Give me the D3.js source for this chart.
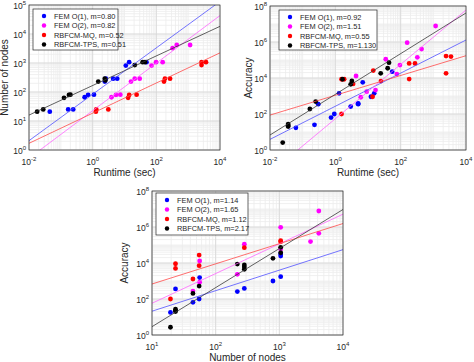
<!DOCTYPE html>
<html>
<head>
<meta charset="utf-8">
<script src="https://cdnjs.cloudflare.com/ajax/libs/d3/7.8.5/d3.min.js"></script>
<style>
  body { margin: 0; background: #fff; }
  svg { display: block; font-family: "Liberation Sans", Arial, sans-serif; }
</style>
</head>
<body>
<div id="chart"></div>
<script>
// series shared by all three panels
var seriesColors = ['#0000ff', '#ff00ff', '#ff0000', '#000000'];
var lineColors = ['#5252ff', '#ff66ff', '#ff4a4a', '#3a3a3a'];

// panel 1 : runtime (sec) -> number of nodes
var rnFemO1 = [[0.045,21],[0.17,25],[0.245,25],[0.56,66],[0.72,79],[1.1,81],[2.4,229],[2.6,289],[4.4,289],[5.9,289],[11,813],[14,1070],[49,1070]];
var rnFemO2 = [[3.9,66],[5.4,79],[7.4,81],[16,229],[21,289],[30,289],[71,813],[98,1070],[158,1070],[324,3240],[437,4170],[1150,4170]];
var rnMQ = [[1.26,21],[1.3,25],[3.1,25],[13,63],[14,79],[24,81],[174,229],[186,289],[270,289],[2630,850],[2630,1070],[3630,1070]];
var rnTPS = [[0.018,21],[0.028,25],[0.126,63],[0.18,79],[0.2,81],[1.5,229],[2.4,289],[2.5,250],[21,850],[37,1070],[44,1070]];
var rnSlopes = [0.80, 0.82, 0.52, 0.51];
var rnStart = [2.1, 0.52, 1.7, 16];   // fit value at left edge of x domain
var rnLabels = ['FEM O(1), m=0.80', 'FEM O(2), m=0.82', 'RBFCM-MQ, m=0.52', 'RBFCM-TPS, m=0.51'];

// panel 2 : runtime (sec) -> accuracy
var raFemO1 = [[0.062,17],[0.23,25],[0.3,350],[0.74,63],[0.93,100],[1.3,1400],[2.95,257],[5,390],[5,350],[6.9,5750],[12.3,910],[15.5,1400],[55,22400]];
var raFemO2 = [[4.3,12900],[6,850],[9.1,1740],[17,2140],[35,110000],[76,16600],[95,52500],[158,912000],[324,141000],[437,407000],[1175,7760000]];
var raMQ = [[1.55,100],[1.55,8500],[1.86,8500],[3.5,4700],[14.5,25700],[13.8,910],[25,6760],[182,64600],[182,8700],[275,64600],[2450,166000],[3470,155000],[2450,18200]];
var raTPS = [[0.0245,2.6],[0.036,27.5],[0.036,20],[0.036,23],[0.166,190],[0.25,490],[1.66,8500],[3.2,6800],[2.95,4470],[24.5,18200],[40,34700],[44,70800]];
var raSlopes = [0.92, 1.51, 0.55, 1.13];
var raStart = [3.9, 0.052, 87, 6.8];
var raLabels = ['FEM O(1), m=0.92', 'FEM O(2), m=1.51', 'RBFCM-MQ, m=0.55', 'RBFCM-TPS, m=1.130'];

// panel 3 : number of nodes -> accuracy
var naFemO1 = [[19.5,18],[23.4,363],[44,65],[56,1550],[55,100],[219,257],[282,389],[794,1000],[1050,1740],[1050,24500],[1050,32000]];
var naFemO2 = [[44,275],[56,850],[56,12900],[219,2340],[282,110000],[1050,955000],[1050,60300],[3090,155000],[4170,7760000],[4170,447000]];
var naMQ = [[19.5,100],[23.4,5000],[23.4,9100],[44,1290],[55,27500],[55,7080],[282,70800],[1050,174000],[1050,151000]];
var naTPS = [[19.5,2.7],[23.4,27],[23.4,20],[23.4,23],[44,204],[55,525],[219,8700],[282,7760],[282,4470],[282,5900],[794,18200],[1050,74000],[1050,37000]];
var naSlopes = [1.14, 1.65, 1.12, 2.17];
var naStart = [21, 58, 680, 2.9];
var naLabels = ['FEM O(1), m=1.14', 'FEM O(2), m=1.65', 'RBFCM-MQ, m=1.12', 'RBFCM-TPS, m=2.17'];

// tick labels (exponents of 10)
var xTicksRuntime = [-2, 0, 2, 4];
var yTicksNodes = [0, 1, 2, 3, 4, 5];
var yTicksAcc = [0, 2, 4, 6, 8];
var xTicksNodes = [1, 2, 3, 4];

var width = 474, height = 362;
var svg = d3.select('#chart').append('svg')
  .attr('width', width)
  .attr('height', height);

var panel = function (id, box, xDom, yDom, xTicks, yTicks, xTitle, yTitle, yTitleX, sets, slopes, starts, labels, leg) {
  var x = d3.scaleLog().domain(xDom).range([box.l, box.r]);
  var y = d3.scaleLog().domain(yDom).range([box.b, box.t]);
  var g = svg.append('g');

  g.append('clipPath').attr('id', 'clip' + id)
    .append('rect').attr('x', box.l).attr('y', box.t)
    .attr('width', box.r - box.l).attr('height', box.b - box.t);

  // minor grid: every k*10^n
  var lo = Math.round(Math.log10(xDom[0])), hi = Math.round(Math.log10(xDom[1]));
  var minorX = [];
  for (var n = lo; n < hi; n++) for (var k = 1; k < 10; k++) minorX.push(k * Math.pow(10, n));
  lo = Math.round(Math.log10(yDom[0])); hi = Math.round(Math.log10(yDom[1]));
  var minorY = [];
  for (var n2 = lo; n2 < hi; n2++) for (var k2 = 1; k2 < 10; k2++) minorY.push(k2 * Math.pow(10, n2));

  g.selectAll('.mgx').data(minorX).enter().append('line')
    .attr('x1', function (d) { return x(d); }).attr('x2', function (d) { return x(d); })
    .attr('y1', box.t).attr('y2', box.b)
    .attr('stroke', '#ececec').attr('stroke-width', 0.8);
  g.selectAll('.mgy').data(minorY).enter().append('line')
    .attr('y1', function (d) { return y(d); }).attr('y2', function (d) { return y(d); })
    .attr('x1', box.l).attr('x2', box.r)
    .attr('stroke', '#ececec').attr('stroke-width', 0.8);
  // major grid
  g.selectAll('.gx').data(xTicks).enter().append('line')
    .attr('x1', function (d) { return x(Math.pow(10, d)); }).attr('x2', function (d) { return x(Math.pow(10, d)); })
    .attr('y1', box.t).attr('y2', box.b)
    .attr('stroke', '#d6d6d6').attr('stroke-width', 0.8);
  g.selectAll('.gy').data(yTicks).enter().append('line')
    .attr('y1', function (d) { return y(Math.pow(10, d)); }).attr('y2', function (d) { return y(Math.pow(10, d)); })
    .attr('x1', box.l).attr('x2', box.r)
    .attr('stroke', '#d6d6d6').attr('stroke-width', 0.8);

  var plot = g.append('g').attr('clip-path', 'url(#clip' + id + ')');

  // markers
  sets.forEach(function (pts, i) {
    plot.selectAll('.p' + i).data(pts).enter().append('circle')
      .attr('cx', function (d) { return x(d[0]); })
      .attr('cy', function (d) { return y(d[1]); })
      .attr('r', 2.4)
      .attr('fill', seriesColors[i]);
  });

  // fitted power laws
  slopes.forEach(function (m, i) {
    var f = function (v) { return starts[i] * Math.pow(v / xDom[0], m); };
    plot.append('line')
      .attr('x1', x(xDom[0])).attr('y1', y(f(xDom[0])))
      .attr('x2', x(xDom[1])).attr('y2', y(f(xDom[1])))
      .attr('stroke', lineColors[i]).attr('stroke-width', 0.8);
  });

  // axes box
  g.append('rect').attr('x', box.l).attr('y', box.t)
    .attr('width', box.r - box.l).attr('height', box.b - box.t)
    .attr('fill', 'none').attr('stroke', '#262626').attr('stroke-width', 0.7);

  g.selectAll('.xt').data(xTicks).enter().append('text')
    .attr('x', function (d) { return x(Math.pow(10, d)); })
    .attr('y', box.b + 15)
    .attr('text-anchor', 'middle')
    .attr('font-size', 8.5).attr('fill', '#262626')
    .each(function (d) {
      d3.select(this).append('tspan').text('10');
      d3.select(this).append('tspan').attr('dy', -4).attr('font-size', 6).text(d);
    });
  g.selectAll('.yt').data(yTicks).enter().append('text')
    .attr('x', box.l - 3)
    .attr('y', function (d) { return y(Math.pow(10, d)) + 4; })
    .attr('text-anchor', 'end')
    .attr('font-size', 8.5).attr('fill', '#262626')
    .each(function (d) {
      d3.select(this).append('tspan').text('10');
      d3.select(this).append('tspan').attr('dy', -4).attr('font-size', 6).text(d);
    });

  g.append('text')
    .attr('x', (box.l + box.r) / 2).attr('y', box.b + 26)
    .attr('text-anchor', 'middle').attr('font-size', 10).attr('fill', '#262626')
    .text(xTitle);
  g.append('text')
    .attr('transform', 'translate(' + yTitleX + ',' + (box.t + box.b) / 2 + ') rotate(-90)')
    .attr('text-anchor', 'middle').attr('font-size', 10).attr('fill', '#262626')
    .text(yTitle);

  // legend
  var lg = g.append('g');
  lg.append('rect').attr('x', leg.x).attr('y', leg.y).attr('width', leg.w).attr('height', leg.h)
    .attr('fill', '#fff').attr('stroke', '#262626').attr('stroke-width', 0.7);
  labels.forEach(function (t, i) {
    var cy = leg.y + 7 + i * 9.5;
    lg.append('circle').attr('cx', leg.x + 11).attr('cy', cy).attr('r', 2.2).attr('fill', seriesColors[i]);
    lg.append('text').attr('x', leg.x + 21).attr('y', cy + 2.7)
      .attr('font-size', 7.4).attr('fill', '#262626').text(t);
  });
};

panel(1, {l: 29, r: 220, t: 5, b: 150}, [1e-2, 1e4], [1, 1e5], xTicksRuntime, yTicksNodes,
  'Runtime (sec)', 'Number of nodes', 8,
  [rnFemO1, rnFemO2, rnMQ, rnTPS], rnSlopes, rnStart, rnLabels,
  {x: 33, y: 9, w: 85, h: 41});

panel(2, {l: 270, r: 466, t: 6, b: 150}, [1e-2, 1e4], [1, 1e8], xTicksRuntime, yTicksAcc,
  'Runtime (sec)', 'Accuracy', 252,
  [raFemO1, raFemO2, raMQ, raTPS], raSlopes, raStart, raLabels,
  {x: 279, y: 10, w: 98, h: 40});

panel(3, {l: 152, r: 343, t: 191, b: 335}, [10, 1e4], [1, 1e8], xTicksNodes, yTicksAcc,
  'Number of nodes', 'Accuracy', 128,
  [naFemO1, naFemO2, naMQ, naTPS], naSlopes, naStart, naLabels,
  {x: 156, y: 193, w: 92, h: 42});
</script>
</body>
</html>
